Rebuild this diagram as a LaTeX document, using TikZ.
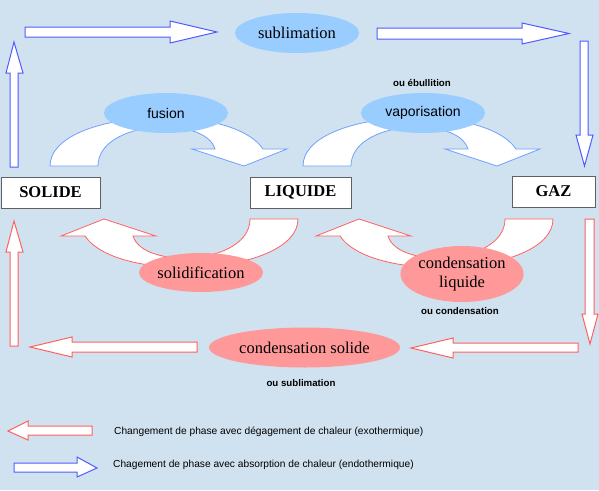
\documentclass[tikz,border=0pt]{standalone}
\usepackage{fontspec}
\setmainfont{Liberation Serif}
\setsansfont{Liberation Sans}
\usetikzlibrary{shapes.geometric}
\definecolor{bgc}{RGB}{208,226,240}
\definecolor{bluefill}{RGB}{153,204,255}
\definecolor{redfill}{RGB}{255,153,153}
\definecolor{blueline}{RGB}{80,90,255}
\definecolor{lightblueline}{RGB}{110,160,255}
\definecolor{redline}{RGB}{255,96,96}
\begin{document}
\begin{tikzpicture}[x=1pt,y=-1pt,
  phasebox/.style={draw=gray!75!black, fill=white, line width=0.8pt, minimum height=31pt, inner sep=0pt,
    font=\fontsize{16.5}{18}\selectfont\bfseries},
  blueell/.style={ellipse, fill=bluefill, inner sep=0pt, minimum width=124pt, minimum height=40pt,
    font=\sffamily\fontsize{14}{16}\selectfont},
  redell/.style={ellipse, fill=redfill, inner sep=0pt, minimum width=124pt, minimum height=39pt,
    font=\fontsize{16.5}{19}\selectfont},
  note/.style={inner sep=0pt, font=\sffamily\bfseries\fontsize{9.7}{11}\selectfont},
  legendtext/.style={anchor=west, inner sep=0pt, font=\sffamily\fontsize{10.2}{12}\selectfont},
  bluebar/.style={fill=white, draw=blueline, line width=1pt},
  redbar/.style={fill=white, draw=redline, line width=1pt},
  bluecurve/.style={fill=white, draw=lightblueline, line width=0.8pt},
  redcurve/.style={fill=white, draw=redline, line width=0.8pt},
  curvarr/.pic={
    \path[pic actions] (0,0) -- (48,0) .. controls (48,-46) and (155,-51) .. (165,-17)
      -- (142,-17) -- (194,0) -- (237,-17) -- (213,-17)
      .. controls (180,-66) and (0,-56) .. (0,0) -- cycle;
  }
]
\useasboundingbox[fill=bgc] (0,0) rectangle (599,490);

% curved arrows
\pic[bluecurve] at (50,166) {curvarr};
\pic[bluecurve] at (303,166) {curvarr};
\pic[redcurve, rotate=180] at (298,219) {curvarr};
\pic[redcurve, rotate=180] at (553,219) {curvarr};

% straight block arrows (endothermic, blue)
\path[bluebar] (10,167) -- (10,73) -- (6,73) -- (14,42) -- (23,73) -- (18,73) -- (18,167) -- cycle;
\path[bluebar] (25,27) -- (170,27) -- (170,21) -- (217,32) -- (170,43) -- (170,37) -- (25,37) -- cycle;
\path[bluebar] (377,28) -- (522,28) -- (522,23) -- (569,33.5) -- (522,44) -- (522,39) -- (377,39) -- cycle;
\path[bluebar] (580,41) -- (588,41) -- (588,135) -- (593,135) -- (584.5,166) -- (576,135) -- (580,135) -- cycle;

% straight block arrows (exothermic, red)
\path[redbar] (585,219) -- (594,219) -- (594,314) -- (598,314) -- (590,344) -- (582,314) -- (585,314) -- cycle;
\path[redbar] (578,343) -- (453,343) -- (453,338) -- (411,348) -- (453,358) -- (453,352) -- (578,352) -- cycle;
\path[redbar] (197,342) -- (72,342) -- (72,337) -- (30,347) -- (72,357) -- (72,352) -- (197,352) -- cycle;
\path[redbar] (10,346) -- (10,252) -- (6,252) -- (14,221) -- (23,252) -- (18,252) -- (18,346) -- cycle;

% phase boxes
\node[phasebox, minimum width=99pt] (solide) at (50.5,192.5) {SOLIDE};
\node[phasebox, minimum width=101pt] (liquide) at (300.5,192.5) {LIQUIDE};
\node[phasebox, minimum width=83pt] (gaz) at (553.5,191.5) {GAZ};

% transitions
\node[blueell, font=\fontsize{16.5}{18}\selectfont] (sublim) at (297,33) {sublimation};
\node[blueell] (fusion) at (166,113) {fusion};
\node[blueell] (vapo) at (423,113) {vaporisation};
\node[redell] (solidif) at (201,272.5) {solidification};
\node[redell, minimum width=122pt, minimum height=56pt, align=center] (condliq) at (462,274) {condensation\\liquide};
\node[redell, minimum width=191pt, minimum height=40pt] (condsol) at (304.5,347.5) {condensation solide};

% notes
\node[note] (n1) at (422,83) {ou ébullition};
\node[note] (n2) at (460,311) {ou condensation};
\node[note] (n3) at (301,383) {ou sublimation};

% legend
\path[redbar] (92,426) -- (28,426) -- (28,421) -- (8,431) -- (28,440) -- (28,435) -- (92,435) -- cycle;
\path[bluebar] (14,463) -- (77,463) -- (77,457) -- (97,468) -- (77,477) -- (77,472) -- (14,472) -- cycle;
\node[legendtext] (l1) at (114,432) {Changement de phase avec dégagement de chaleur (exothermique)};
\node[legendtext] (l2) at (113,465) {Chagement de phase avec absorption de chaleur (endothermique)};
\end{tikzpicture}
\end{document}
